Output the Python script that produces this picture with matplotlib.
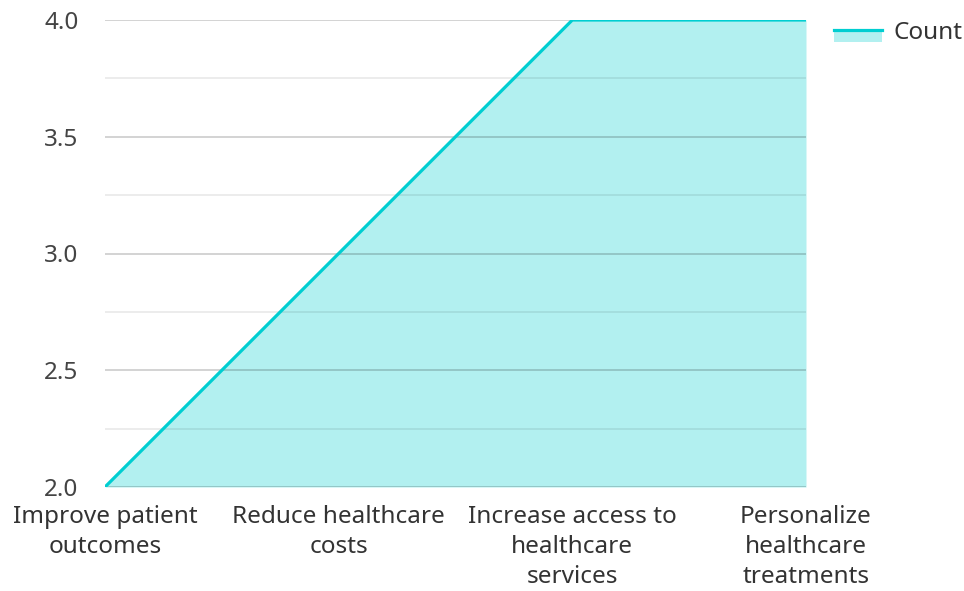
import matplotlib
matplotlib.use("Agg")
import matplotlib.pyplot as plt
from matplotlib.patches import Rectangle
from matplotlib.lines import Line2D
from matplotlib.legend_handler import HandlerBase
from matplotlib.ticker import MultipleLocator

plt.rcParams['font.family'] = ['Noto Sans', 'DejaVu Sans']

# data
categories = ['Improve patient\noutcomes', 'Reduce healthcare\ncosts',
              'Increase access to\nhealthcare\nservices', 'Personalize\nhealthcare\ntreatments']
counts = [2, 3, 4, 4]
y_ticks = [2.0, 2.5, 3.0, 3.5, 4.0]

line_color = '#00CED1'
fill_color = '#B2F0F0'


class AreaHandler(HandlerBase):
    # line on top, filled box underneath, like the area legend key
    def create_artists(self, legend, orig_handle, xdescent, ydescent, width, height, fontsize, trans):
        top = height * 0.55
        box_h = fontsize * 0.5
        rect = Rectangle((-xdescent, top - box_h), width, box_h,
                         facecolor=fill_color, edgecolor='none', transform=trans)
        line = Line2D([-xdescent, width - xdescent], [top, top], color=line_color,
                      linewidth=2.3, transform=trans)
        return [rect, line]


fig = plt.figure(figsize=(9.64, 5.91), dpi=100)
ax = fig.add_axes([105 / 964, 1 - 487 / 591, (806 - 105) / 964, (487 - 20) / 591])

x = list(range(len(categories)))
ax.fill_between(x, counts, 2.0, color=fill_color, zorder=1, linewidth=0)
ax.plot(x, counts, color=line_color, linewidth=2.3, zorder=3, solid_capstyle='butt')

ax.set_xlim(0, len(categories) - 1)
ax.set_ylim(2.0, 4.0)
ax.set_yticks(y_ticks)
ax.set_yticklabels([f'{v:.1f}' for v in y_ticks])
ax.yaxis.set_minor_locator(MultipleLocator(0.25))
ax.set_xticks(x)
ax.set_xticklabels(categories, linespacing=1.33)

ax.grid(axis='y', which='major', color='black', alpha=0.2, linewidth=1.2, zorder=2)
ax.grid(axis='y', which='minor', color='black', alpha=0.09, linewidth=1.2, zorder=2)
ax.set_axisbelow(False)
ax.grid(axis='x', visible=False)

for s in ax.spines.values():
    s.set_visible(False)
ax.tick_params(axis='both', which='both', length=0, labelsize=17.5)
ax.tick_params(axis='y', pad=19, labelcolor='#444444')
ax.tick_params(axis='x', pad=13, labelcolor='#333333')

fig.legend([object()], ['Count'], handler_map={object: AreaHandler()},
           loc='upper left', bbox_to_anchor=(812 / 964, 1 + 1 / 591),
           frameon=False, fontsize=17.5, handlelength=2.0, handletextpad=0.45,
           labelcolor='#333333')

fig.savefig('out.png', dpi=100)
